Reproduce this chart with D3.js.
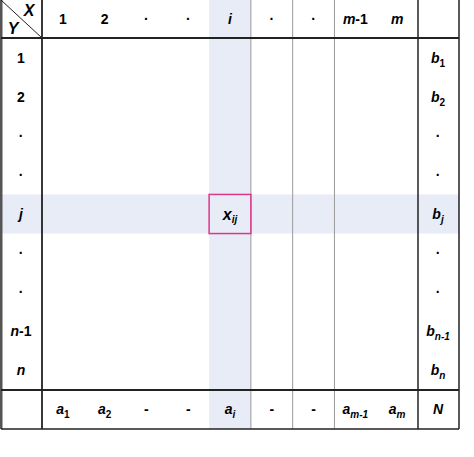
<!DOCTYPE html>
<html><head><meta charset="utf-8">
<script src="https://cdn.jsdelivr.net/npm/d3@7"></script>
<style>body{margin:0;background:#fff}text{font-family:"Liberation Sans",Arial,sans-serif;font-weight:bold;font-size:14px}</style>
</head><body><svg id="c" width="474" height="457"></svg>
<script>
// column headers, row headers, margins (each label: [main, sub, mainItalic, subItalic, inlineSub])
const colHeads = [["1"],["2"],["·"],["·"],["i","",true],["·"],["·"],["m","-1",true,false,true],["m","",true]];
const rowHeads = [["1"],["2"],["·"],["·"],["j","",true],["·"],["·"],["n","-1",true,false,true],["n","",true]];
const rowTotals = [["b","1",true],["b","2",true],["·"],["·"],["b","j",true,true],["·"],["·"],["b","n-1",true,true],["b","n",true,true]];
const colTotals = [["a","1",true],["a","2",true],["-"],["-"],["a","i",true,true],["-"],["-"],["a","m-1",true,true],["a","m",true,true]];
const grandTotal = ["N","",true];
const hiCol = 4, hiRow = 4;
const cellLabel = ["x","ij"];

const svg = d3.select("#c");
const x = d3.scaleBand().domain(d3.range(9)).range([42, 418]);
const y = d3.scaleBand().domain(d3.range(9)).range([38, 390]);
const L = 1, R = 459, T = 0, B = 429;

// highlight bands
svg.append("rect").attr("x", x(hiCol)).attr("y", T).attr("width", x.bandwidth()).attr("height", B - T).attr("fill", "#e8ecf6");
svg.append("rect").attr("x", L).attr("y", y(hiRow)).attr("width", R - L).attr("height", y.bandwidth()).attr("fill", "#e8ecf6");

// thin grey separators
[5, 6, 7].forEach(i => svg.append("line").attr("x1", x(i)).attr("x2", x(i)).attr("y1", T).attr("y2", B).attr("stroke", "#999").attr("stroke-width", 1));

// main lines
const dark = "#222";
[[L, T, L, B, 3, "#555"], [42, T, 42, B, 1.8, dark], [418, T, 418, B, 1.5, dark], [R, T, R, B, 1.5, dark],
 [L, 38, R, 38, 2, dark], [L, 390, R, 390, 2, dark], [L, B, R, B, 1.5, dark], [L, T, 42, 38, 1, dark]]
  .forEach(d => svg.append("line").attr("x1", d[0]).attr("y1", d[1]).attr("x2", d[2]).attr("y2", d[3]).attr("stroke", d[5]).attr("stroke-width", d[4]));

function label(lab, cx, cy, size) {
  const t = svg.append("text").attr("x", cx).attr("y", cy).attr("text-anchor", "middle").attr("dominant-baseline", "central").style("font-size", (size || 14) + "px");
  t.append("tspan").text(lab[0]).attr("font-style", lab[2] ? "italic" : null);
  if (lab[1]) {
    if (lab[4]) t.append("tspan").text(lab[1]);
    else t.append("tspan").text(lab[1]).attr("dy", 5).style("font-size", "10px").attr("font-style", lab[3] ? "italic" : null);
  }
}

colHeads.forEach((d, i) => label(d, x(i) + x.bandwidth() / 2, 19));
rowHeads.forEach((d, i) => label(d, 21, y(i) + y.bandwidth() / 2));
rowTotals.forEach((d, i) => label(d, 438, y(i) + y.bandwidth() / 2));
colTotals.forEach((d, i) => label(d, x(i) + x.bandwidth() / 2, 409));
label(grandTotal, 438, 409);
svg.append("text").attr("x", 29).attr("y", 16).attr("font-style", "italic").attr("text-anchor", "middle").style("font-size", "16px").text("X");
svg.append("text").attr("x", 13).attr("y", 34).attr("font-style", "italic").attr("text-anchor", "middle").style("font-size", "16px").text("Y");

// selected cell
svg.append("rect").attr("x", x(hiCol)).attr("y", y(hiRow)).attr("width", x.bandwidth()).attr("height", y.bandwidth())
  .attr("fill", "none").attr("stroke", "#e0368c").attr("stroke-width", 1.5);
label([cellLabel[0], cellLabel[1], true, true], x(hiCol) + x.bandwidth() / 2, y(hiRow) + y.bandwidth() / 2, 16);
</script></body></html>
